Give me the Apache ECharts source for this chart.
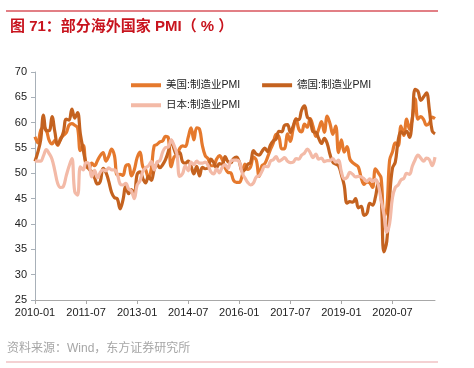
<!DOCTYPE html>
<html><head><meta charset="utf-8">
<script src="https://cdn.jsdelivr.net/npm/echarts@6/dist/echarts.min.js"></script>
<style>html,body{margin:0;padding:0;background:#fff}#c{width:474px;height:368px}</style>
</head><body><div id="c"></div>
<script>
var startYear = 2010, endYear = 2021, endMonth = 10;
var categories = [];
for (var y = startYear; y <= endYear; y++) {
  for (var m = 1; m <= 12; m++) {
    if (y === endYear && m > endMonth) break;
    categories.push(y + '-' + (m < 10 ? '0' + m : m));
  }
}
var seriesNames = ['美国:制造业PMI', '德国:制造业PMI', '日本:制造业PMI'];
var usPMI = [
57.2,56.0,58.5,59.0,58.5,56.5,55.8,56.5,55.5,56.9,57.5,58.0,
59.5,59.8,59.5,59.0,54.5,55.5,51.5,51.0,52.0,51.5,52.5,53.5,
54.1,52.4,53.4,54.8,53.5,49.7,49.8,49.6,51.5,51.7,49.5,50.7,
53.1,54.2,51.3,50.7,49.0,50.9,55.4,55.7,56.2,56.4,57.3,57.0,
51.3,53.2,53.7,54.9,55.4,55.3,57.1,59.0,56.6,59.0,58.7,55.5,
53.5,52.9,51.5,51.5,52.8,53.5,52.7,51.1,50.2,50.1,48.6,48.2,
48.2,49.5,51.8,50.8,51.3,53.2,52.6,49.4,51.5,51.9,53.2,54.7,
56.0,57.7,57.2,54.8,54.9,57.8,56.3,58.8,60.8,58.7,58.2,59.7,
59.1,60.8,59.3,57.3,58.7,60.2,58.1,61.3,59.8,57.7,59.3,54.1,
56.6,54.2,55.3,52.8,52.1,51.7,51.2,49.1,47.8,48.3,48.1,47.2,
50.9,50.1,49.1,41.5,43.1,52.6,54.2,56.0,55.4,59.3,57.5,60.7,
58.7,60.8,64.7,60.7,61.2,60.6,59.5,59.9,61.1,60.8];
var dePMI = [
52.4,54.2,56.6,61.5,58.4,58.4,61.2,58.2,55.7,56.6,58.1,60.7,
60.5,62.7,60.9,62.0,57.7,54.6,52.0,50.9,50.3,49.1,47.9,48.4,
51.0,50.2,48.4,46.2,45.2,45.0,43.0,44.7,47.4,46.0,46.8,46.0,
49.8,50.3,49.0,48.1,49.4,48.6,50.7,51.8,51.1,51.7,52.7,54.3,
56.5,54.8,53.7,54.1,52.3,52.0,52.4,51.4,49.9,51.4,49.5,51.2,
50.9,51.1,52.8,52.1,51.1,51.9,51.8,53.3,52.3,52.1,52.9,53.2,
52.3,50.5,50.7,51.8,52.1,54.5,53.8,53.6,54.3,55.0,54.3,55.6,
56.4,56.8,58.3,58.2,59.5,59.6,58.1,59.3,60.6,60.6,62.5,63.3,
61.1,60.6,58.2,58.1,56.9,55.9,56.9,55.9,53.7,52.2,51.8,51.5,
49.7,47.6,44.1,44.4,44.3,45.0,43.2,43.5,41.7,42.1,44.1,43.7,
45.3,48.0,45.4,34.5,36.6,45.2,51.0,52.2,56.4,58.2,57.8,58.3,
57.1,60.7,66.6,66.2,64.4,65.1,65.9,62.6,58.4,57.8];
var jpPMI = [
52.5,52.4,52.4,53.5,54.7,53.9,52.8,50.5,48.0,47.2,47.4,49.5,
51.4,52.9,46.4,45.7,51.3,50.7,52.1,51.9,49.3,50.6,49.1,50.2,
50.7,50.5,51.1,50.7,50.7,49.9,47.9,47.7,48.0,46.9,46.5,45.0,
47.7,48.5,50.4,51.1,51.5,52.3,50.7,52.2,52.5,54.2,55.1,55.2,
56.6,55.5,53.9,49.4,49.9,51.5,50.5,52.2,51.7,52.4,52.0,52.0,
52.2,51.6,50.3,49.9,50.9,50.1,51.2,51.7,51.0,52.4,52.6,52.6,
52.3,50.1,49.1,48.2,47.7,48.1,49.3,49.5,50.4,51.4,51.3,52.4,
52.7,53.3,52.4,52.7,53.1,52.4,52.1,52.2,52.9,52.8,53.6,54.0,
54.8,54.1,53.1,53.8,52.8,53.0,52.3,52.5,52.5,52.9,52.2,52.6,
50.3,48.9,49.2,50.2,49.8,49.3,49.4,49.3,48.9,48.4,48.9,48.4,
48.8,47.8,44.8,41.9,38.4,40.1,45.2,47.2,47.7,48.7,49.0,50.0,
49.8,51.4,52.7,53.6,53.0,52.4,53.0,52.7,51.5,53.2];
var yTicks = {min: 25, max: 70, step: 5};

var FONT = '"Liberation Sans", Arial, "Noto Sans CJK SC", sans-serif';
var colors = ['#E5792D', '#C4621F', '#F3BAA7'];
var chart = echarts.init(document.getElementById('c'), null, {renderer: 'canvas'});
function mk(i, data) {
  return {
    name: seriesNames[i], type: 'line', data: data, smooth: 0.4,
    showSymbol: false, symbol: 'none',
    lineStyle: {width: 3.2, color: colors[i]}, itemStyle: {color: colors[i]}
  };
}
chart.setOption({
  animation: false,
  textStyle: {fontFamily: FONT},
  title: {
    text: '图 71：部分海外国家 PMI（ % ）', left: 5, top: 14,
    textStyle: {color: '#C8141E', fontSize: 15, fontWeight: 'bold', fontFamily: FONT}
  },
  graphic: [
    {type: 'line', shape: {x1: 6, y1: 11, x2: 438, y2: 11}, style: {stroke: '#D9545C', lineWidth: 1.5}},
    {type: 'line', shape: {x1: 6, y1: 362, x2: 438, y2: 362}, style: {stroke: '#E9A3A6', lineWidth: 1}},
    {type: 'text', left: 7, top: 343, style: {text: '资料来源：Wind，东方证券研究所', fill: '#A6A6A6', fontSize: 12, fontFamily: FONT}}
  ],
  legend: [
    {data: [seriesNames[0], seriesNames[1]], left: 126, top: 75, itemWidth: 30, itemHeight: 4, icon: 'rect', itemGap: 22,
     textStyle: {fontSize: 10.5, color: '#222', fontFamily: FONT}},
    {data: [seriesNames[2]], left: 126, top: 95, itemWidth: 30, itemHeight: 4, icon: 'rect',
     textStyle: {fontSize: 10.5, color: '#222', fontFamily: FONT}}
  ],
  grid: {left: 35, right: 39, top: 72, bottom: 68, containLabel: false},
  xAxis: {
    type: 'category', data: categories, boundaryGap: false,
    axisLine: {lineStyle: {color: '#A8A8A8', width: 1}},
    axisTick: {interval: 17, length: 4, lineStyle: {color: '#A8A8A8'}},
    axisLabel: {interval: 17, color: '#222', fontSize: 11, margin: 7, fontFamily: FONT},
    splitLine: {show: false}
  },
  yAxis: {
    type: 'value', min: yTicks.min, max: yTicks.max, interval: yTicks.step,
    axisLine: {show: true, lineStyle: {color: '#A8B0B8', width: 1}},
    axisTick: {show: true, length: 4, lineStyle: {color: '#A8B0B8'}},
    axisLabel: {color: '#222', fontSize: 11, margin: 8, fontFamily: FONT},
    splitLine: {show: false}
  },
  series: [mk(0, usPMI), mk(1, dePMI), mk(2, jpPMI)]
});
</script></body></html>
